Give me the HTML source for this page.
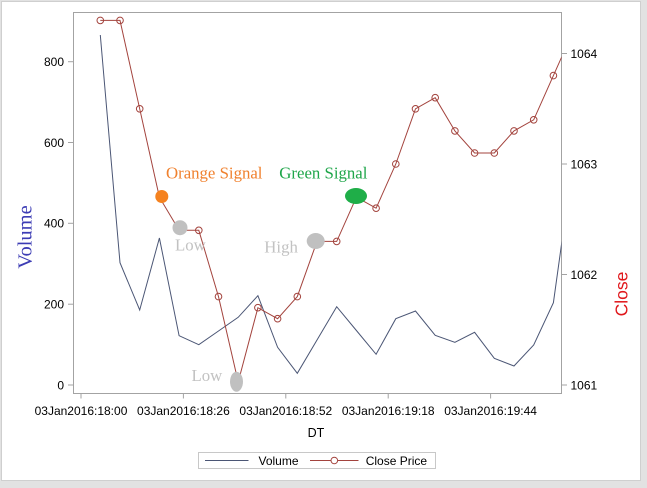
<!DOCTYPE html>
<html><head><meta charset="utf-8"><style>
html,body{margin:0;padding:0;width:647px;height:488px;overflow:hidden;background:#e2e2e2;}
svg{display:block;}
</style></head><body>
<svg width="647" height="488" viewBox="0 0 647 488" xmlns="http://www.w3.org/2000/svg">
<rect x="0" y="0" width="647" height="488" fill="#e2e2e2"/>
<rect x="1.5" y="1.5" width="639" height="479" fill="#ffffff" stroke="#cfcfcf" stroke-width="1"/>
<defs><clipPath id="pc"><rect x="73.5" y="12.5" width="488" height="381"/></clipPath></defs>
<rect x="73.5" y="12.5" width="488" height="381" fill="none" stroke="#a3a3a3" stroke-width="1"/>
<g stroke="#a3a3a3" stroke-width="1">
<line x1="68" y1="61.7" x2="73.5" y2="61.7"/>
<line x1="68" y1="142.5" x2="73.5" y2="142.5"/>
<line x1="68" y1="223.3" x2="73.5" y2="223.3"/>
<line x1="68" y1="304.2" x2="73.5" y2="304.2"/>
<line x1="68" y1="385" x2="73.5" y2="385"/>
<line x1="561.5" y1="53.5" x2="567" y2="53.5"/>
<line x1="561.5" y1="164" x2="567" y2="164"/>
<line x1="561.5" y1="274.5" x2="567" y2="274.5"/>
<line x1="561.5" y1="385" x2="567" y2="385"/>
<line x1="81" y1="393.5" x2="81" y2="398.5"/>
<line x1="183.4" y1="393.5" x2="183.4" y2="398.5"/>
<line x1="285.8" y1="393.5" x2="285.8" y2="398.5"/>
<line x1="388.2" y1="393.5" x2="388.2" y2="398.5"/>
<line x1="490.6" y1="393.5" x2="490.6" y2="398.5"/>
</g>
<g font-family="Liberation Sans, Arial, sans-serif" font-size="12" fill="#000">
<text x="64" y="66" text-anchor="end">800</text>
<text x="64" y="146.8" text-anchor="end">600</text>
<text x="64" y="227.6" text-anchor="end">400</text>
<text x="64" y="308.5" text-anchor="end">200</text>
<text x="64" y="389.3" text-anchor="end">0</text>
<text x="570.5" y="57.8">1064</text>
<text x="570.5" y="168.3">1063</text>
<text x="570.5" y="278.8">1062</text>
<text x="570.5" y="389.3">1061</text>
<text x="81" y="415" text-anchor="middle">03Jan2016:18:00</text>
<text x="183.4" y="415" text-anchor="middle">03Jan2016:18:26</text>
<text x="285.8" y="415" text-anchor="middle">03Jan2016:18:52</text>
<text x="388.2" y="415" text-anchor="middle">03Jan2016:19:18</text>
<text x="490.6" y="415" text-anchor="middle">03Jan2016:19:44</text>
<text x="316" y="437" text-anchor="middle" font-size="12.5">DT</text>
</g>
<text transform="translate(31.5,237) rotate(-90)" text-anchor="middle" font-family="Liberation Serif, Times New Roman, serif" font-size="20.5" fill="#3c3cb4">Volume</text>
<text transform="translate(627.5,294) rotate(-90)" text-anchor="middle" font-family="Liberation Sans, Arial, sans-serif" font-size="17.5" fill="#e0181c">Close</text>
<g clip-path="url(#pc)">
<polyline fill="none" stroke="#4b5675" stroke-width="1" points="100.3,35 120,262.7 139.7,310 159.4,238 179.1,335.7 198.8,344.7 218.5,331 238.2,317.3 257.9,295.7 277.6,347.3 297.3,373.3 317,340 336.7,306.7 356.4,330.5 376.1,354.3 395.8,318.7 415.5,311 435.2,335.3 454.9,342.3 474.6,332.3 494.3,358.3 514,366 533.7,345 553.4,302.7 573.1,161"/>
<polyline fill="none" stroke="#a3433d" stroke-width="1" points="100.3,20.4 120,20.4 139.7,108.8 159.4,197.2 179.1,230.3 198.8,230.3 218.5,296.6 238.2,382 257.9,307.7 277.6,318.7 297.3,296.6 317,241.4 336.7,241.4 356.4,197.2 376.1,208.2 395.8,164 415.5,108.8 435.2,97.7 454.9,130.9 474.6,153 494.3,153 514,130.9 533.7,119.8 553.4,75.6 573.1,31.4"/>
<g fill="none" stroke="#a3433d" stroke-width="1">
<circle cx="100.3" cy="20.4" r="3.3"/><circle cx="120" cy="20.4" r="3.3"/><circle cx="139.7" cy="108.8" r="3.3"/>
<circle cx="198.8" cy="230.3" r="3.3"/><circle cx="218.5" cy="296.6" r="3.3"/>
<circle cx="257.9" cy="307.7" r="3.3"/><circle cx="277.6" cy="318.7" r="3.3"/><circle cx="297.3" cy="296.6" r="3.3"/>
<circle cx="336.7" cy="241.4" r="3.3"/><circle cx="376.1" cy="208.2" r="3.3"/><circle cx="395.8" cy="164" r="3.3"/>
<circle cx="415.5" cy="108.8" r="3.3"/><circle cx="435.2" cy="97.7" r="3.3"/><circle cx="454.9" cy="130.9" r="3.3"/>
<circle cx="474.6" cy="153" r="3.3"/><circle cx="494.3" cy="153" r="3.3"/><circle cx="514" cy="130.9" r="3.3"/>
<circle cx="533.7" cy="119.8" r="3.3"/><circle cx="553.4" cy="75.6" r="3.3"/>
</g>
</g>
<circle cx="161.8" cy="196.5" r="6.5" fill="#f5821f"/>
<circle cx="180" cy="227.7" r="7.5" fill="#c0c0c0"/>
<ellipse cx="315.7" cy="241" rx="9" ry="8" fill="#c0c0c0"/>
<ellipse cx="236.5" cy="381.7" rx="6.5" ry="10" fill="#c0c0c0"/>
<ellipse cx="356" cy="196" rx="11" ry="8" fill="#1fae48"/>
<g font-family="Liberation Serif, Times New Roman, serif" font-size="16.8">
<text x="166" y="178.3" fill="#f0812e">Orange Signal</text>
<text x="279.3" y="178.3" fill="#1fa64a">Green Signal</text>
<text x="175" y="250.7" fill="#c2c2c2">Low</text>
<text x="264.3" y="252.7" fill="#c2c2c2">High</text>
<text x="191.5" y="381" fill="#c2c2c2">Low</text>
</g>
<rect x="198.5" y="452.5" width="237" height="16" fill="#fff" stroke="#c8c8c8" stroke-width="1"/>
<line x1="205" y1="460.5" x2="248.5" y2="460.5" stroke="#4b5675" stroke-width="1"/>
<line x1="310" y1="460.5" x2="358.5" y2="460.5" stroke="#a3433d" stroke-width="1"/>
<circle cx="334.3" cy="460.5" r="3.3" fill="#fff" stroke="#a3433d" stroke-width="1"/>
<g font-family="Liberation Sans, Arial, sans-serif" font-size="12" fill="#000">
<text x="258.5" y="464.8">Volume</text>
<text x="365.7" y="464.8">Close Price</text>
</g>
</svg>
</body></html>
